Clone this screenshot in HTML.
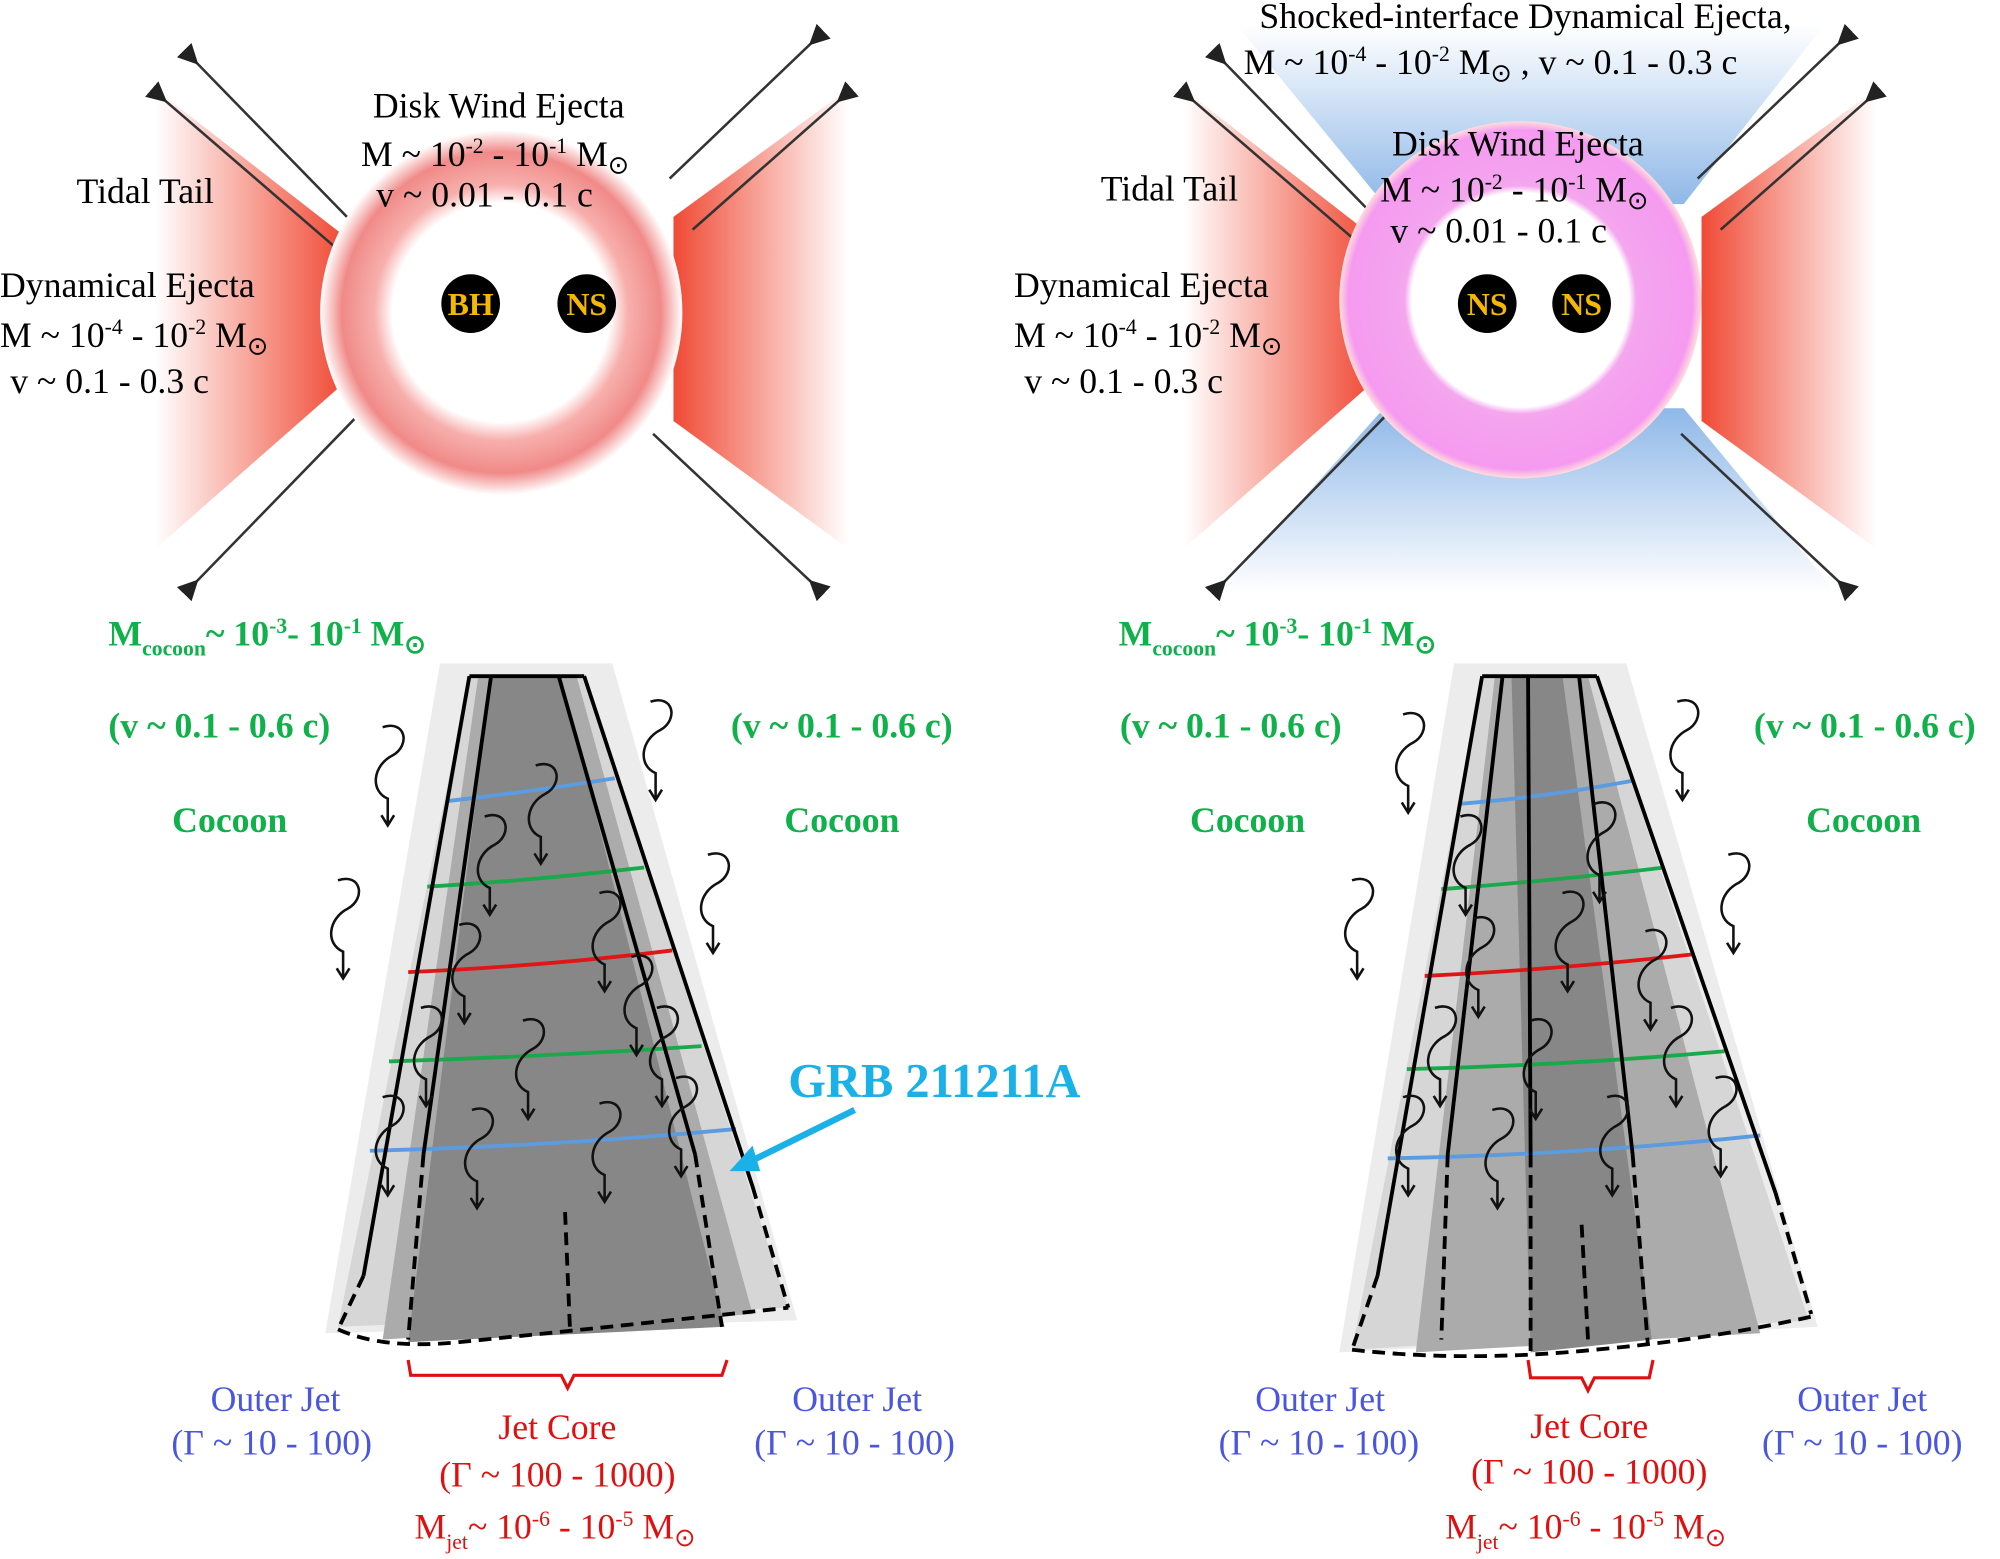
<!DOCTYPE html>
<html><head><meta charset="utf-8"><style>
html,body{margin:0;padding:0;background:#fff}
svg{display:block}
text{font-family:"Liberation Serif",serif}
.k{fill:#000;font-size:28px}
.g{fill:#1db954;font-size:28px;font-weight:bold;fill:#10b04a}
.b{fill:#4a55e0;font-size:28px}
.r{fill:#e01010;font-size:28px}
.o{fill:#f5b800;font-size:25px;font-weight:bold}
</style></head><body>
<svg width="2000" height="1559" viewBox="0 0 1568 1222" preserveAspectRatio="none" xmlns="http://www.w3.org/2000/svg">
<defs>
<linearGradient id="wl" x1="0" x2="1"><stop offset="0" stop-color="#fff"/><stop offset="1" stop-color="#f04a35"/></linearGradient>
<linearGradient id="wr" x1="1" x2="0"><stop offset="0" stop-color="#fff"/><stop offset="1" stop-color="#f04a35"/></linearGradient>
<radialGradient id="ringR"><stop offset="0.6" stop-color="#fff"/><stop offset="0.7" stop-color="#f7b0ad"/><stop offset="0.88" stop-color="#f08a88"/><stop offset="1" stop-color="#fff"/></radialGradient>
<radialGradient id="ringP"><stop offset="0.6" stop-color="#fff"/><stop offset="0.64" stop-color="#f4a6ee"/><stop offset="0.95" stop-color="#f59af0"/><stop offset="1" stop-color="#fdd"/></radialGradient>
<linearGradient id="bt" x1="0" y1="0" x2="0" y2="1"><stop offset="0" stop-color="#fff"/><stop offset="1" stop-color="#8fb8e8"/></linearGradient>
<linearGradient id="bb" x1="0" y1="1" x2="0" y2="0"><stop offset="0" stop-color="#fff"/><stop offset="1" stop-color="#8fb8e8"/></linearGradient>
<marker id="ah" markerWidth="8" markerHeight="8" refX="4" refY="4" orient="auto"><path d="M0,0 L8,4 L0,8 z" fill="#222"/></marker>
<marker id="sa" markerWidth="10" markerHeight="10" refX="5" refY="8" orient="auto-start-reverse"><path d="M1,2 L5,9 L9,2" fill="none" stroke="#111" stroke-width="1.5"/></marker>
<g id="sq"><path d="M0,0 C18,-6 22,14 8,22 C-8,30 -10,50 4,56 L4,75" fill="none" stroke="#111" stroke-width="2"/><path d="M-1,69 L4,77 L9,69" fill="none" stroke="#111" stroke-width="2"/></g>
<g id="top">
<polygon points="122,70 270,185 270,300 122,430" fill="url(#wl)"/>
<polygon points="665,70 528,170 528,330 665,430" fill="url(#wr)"/>
<line x1="150" y1="45" x2="272" y2="170" stroke="#333" stroke-width="2" marker-start="url(#ah)"/>
<line x1="125" y1="75" x2="270" y2="200" stroke="#333" stroke-width="2" marker-start="url(#ah)"/>
<line x1="150" y1="460" x2="288" y2="318" stroke="#333" stroke-width="2" marker-start="url(#ah)"/>
<line x1="640" y1="30" x2="525" y2="140" stroke="#333" stroke-width="2" marker-start="url(#ah)"/>
<line x1="662" y1="75" x2="543" y2="180" stroke="#333" stroke-width="2" marker-start="url(#ah)"/>
<line x1="640" y1="460" x2="512" y2="340" stroke="#333" stroke-width="2" marker-start="url(#ah)"/>
</g>
</defs>

<!-- LEFT TOP PANEL -->
<g>
<use href="#top"/>
<ellipse cx="393" cy="245" rx="142" ry="143" fill="url(#ringR)"/>
<circle cx="369" cy="238" r="23" fill="#000"/>
<text x="369" y="247" class="o" text-anchor="middle">BH</text>
<circle cx="460" cy="238" r="23" fill="#000"/>
<text x="460" y="247" class="o" text-anchor="middle">NS</text>
<text x="391" y="92" class="k" text-anchor="middle">Disk Wind Ejecta</text>
<text x="283" y="130" class="k">M ~ 10<tspan dy="-10" font-size="17">-2</tspan><tspan dy="10"> - 10</tspan><tspan dy="-10" font-size="17">-1</tspan><tspan dy="10"> M</tspan><tspan dy="6" font-size="20">⊙</tspan></text>
<text x="295" y="162" class="k">v ~  0.01 - 0.1 c</text>
<text x="60" y="159" class="k">Tidal Tail</text>
<text x="0" y="233" class="k">Dynamical Ejecta</text>
<text x="0" y="272" class="k">M ~ 10<tspan dy="-10" font-size="17">-4</tspan><tspan dy="10"> - 10</tspan><tspan dy="-10" font-size="17">-2</tspan><tspan dy="10"> M</tspan><tspan dy="6" font-size="20">⊙</tspan></text>
<text x="8" y="308" class="k">v ~  0.1 - 0.3 c</text>
</g>

<!-- RIGHT TOP PANEL -->
<g>
<polygon points="970,20 1430,20 1320,160 1085,160" fill="url(#bt)"/>
<polygon points="1085,320 1320,320 1440,465 955,465" fill="url(#bb)"/>
<use href="#top" transform="translate(806,0)"/>
<ellipse cx="1192" cy="235" rx="142" ry="140" fill="url(#ringP)"/>
<circle cx="1166" cy="238" r="23" fill="#000"/>
<text x="1166" y="247" class="o" text-anchor="middle">NS</text>
<circle cx="1240" cy="238" r="23" fill="#000"/>
<text x="1240" y="247" class="o" text-anchor="middle">NS</text>
<text x="1196" y="22" class="k" text-anchor="middle">Shocked-interface Dynamical Ejecta,</text>
<text x="975" y="58" class="k">M ~ 10<tspan dy="-10" font-size="17">-4</tspan><tspan dy="10"> - 10</tspan><tspan dy="-10" font-size="17">-2</tspan><tspan dy="10"> M</tspan><tspan dy="6" font-size="20">⊙</tspan><tspan dy="-6"> , v ~  0.1 - 0.3 c</tspan></text>
<text x="1190" y="122" class="k" text-anchor="middle">Disk Wind Ejecta</text>
<text x="1082" y="158" class="k">M ~ 10<tspan dy="-10" font-size="17">-2</tspan><tspan dy="10"> - 10</tspan><tspan dy="-10" font-size="17">-1</tspan><tspan dy="10"> M</tspan><tspan dy="6" font-size="20">⊙</tspan></text>
<text x="1090" y="190" class="k">v ~  0.01 - 0.1 c</text>
<text x="863" y="157" class="k">Tidal Tail</text>
<text x="795" y="233" class="k">Dynamical Ejecta</text>
<text x="795" y="272" class="k">M ~ 10<tspan dy="-10" font-size="17">-4</tspan><tspan dy="10"> - 10</tspan><tspan dy="-10" font-size="17">-2</tspan><tspan dy="10"> M</tspan><tspan dy="6" font-size="20">⊙</tspan></text>
<text x="803" y="308" class="k">v ~  0.1 - 0.3 c</text>
</g>

<!-- LEFT JET -->
<g>
<polygon points="345,520 480,520 625,1035 255,1045" fill="#ececec"/>
<polygon points="368,530 458,530 618,1025 265,1040" fill="#d6d6d6"/>
<polygon points="375,530 452,530 590,1030 300,1050" fill="#ababab"/>
<polygon points="385,530 440,530 568,1040 320,1052" fill="#878787"/>
<g fill="none" stroke-width="3">
<path d="M350,628 Q420,620 482,610" stroke="#5b9be0"/>
<path d="M335,695 Q420,690 505,680" stroke="#1aa84a"/>
<path d="M320,762 Q430,757 527,745" stroke="#e01515"/>
<path d="M305,832 Q430,828 550,820" stroke="#1aa84a"/>
<path d="M290,902 Q440,898 577,885" stroke="#5b9be0"/>
</g>
<g stroke="#000" stroke-width="3" fill="none">
<path d="M368,530 L458,530"/>
<path d="M368,530 L285,1000"/><path d="M458,530 L590,930"/>
<path d="M385,530 L332,905"/><path d="M438,530 L545,905"/>
<g stroke-dasharray="10,6"><path d="M285,1000 L265,1042"/><path d="M590,930 L618,1025"/><path d="M265,1042 Q300,1058 360,1052 Q480,1040 618,1025"/><path d="M332,905 L320,1050"/><path d="M545,905 L566,1040"/><path d="M443,950 L447,1045"/></g>
</g>
<use href="#sq" transform="translate(300,570)"/><use href="#sq" transform="translate(510,550)"/>
<use href="#sq" transform="translate(265,690)"/><use href="#sq" transform="translate(555,670)"/>
<use href="#sq" transform="translate(380,640)"/><use href="#sq" transform="translate(420,600)"/>
<use href="#sq" transform="translate(360,725)"/><use href="#sq" transform="translate(470,700)"/><use href="#sq" transform="translate(495,750)"/>
<use href="#sq" transform="translate(330,790)"/><use href="#sq" transform="translate(410,800)"/><use href="#sq" transform="translate(515,790)"/>
<use href="#sq" transform="translate(300,860)"/><use href="#sq" transform="translate(370,870)"/><use href="#sq" transform="translate(470,865)"/><use href="#sq" transform="translate(530,845)"/>
</g>

<!-- RIGHT JET -->
<g>
<polygon points="1140,520 1275,520 1425,1040 1050,1060" fill="#ececec"/>
<polygon points="1162,530 1252,530 1418,1035 1060,1058" fill="#d6d6d6"/>
<polygon points="1172,530 1245,530 1380,1045 1110,1060" fill="#ababab"/>
<polygon points="1185,530 1225,530 1295,1050 1200,1060" fill="#878787"/>
<g fill="none" stroke-width="3">
<path d="M1145,630 Q1210,625 1280,612" stroke="#5b9be0"/>
<path d="M1130,697 Q1220,690 1305,680" stroke="#1aa84a"/>
<path d="M1117,765 Q1220,760 1328,748" stroke="#e01515"/>
<path d="M1103,838 Q1230,835 1352,824" stroke="#1aa84a"/>
<path d="M1088,908 Q1240,905 1380,890" stroke="#5b9be0"/>
</g>
<g stroke="#000" stroke-width="3" fill="none">
<path d="M1162,530 L1252,530"/>
<path d="M1162,530 L1080,1000"/><path d="M1252,530 L1392,935"/>
<path d="M1178,530 L1135,905"/><path d="M1238,530 L1280,905"/>
<path d="M1198,530 L1200,905"/>
<g stroke-dasharray="10,6"><path d="M1080,1000 L1060,1058"/><path d="M1392,935 L1420,1030"/><path d="M1060,1058 Q1150,1068 1250,1058 Q1340,1050 1420,1032"/><path d="M1135,905 L1130,1050"/><path d="M1280,905 L1292,1055"/><path d="M1200,905 L1200,1060"/><path d="M1240,960 L1245,1050"/></g>
</g>
<use href="#sq" transform="translate(1100,560)"/><use href="#sq" transform="translate(1315,550)"/>
<use href="#sq" transform="translate(1060,690)"/><use href="#sq" transform="translate(1355,670)"/>
<use href="#sq" transform="translate(1145,640)"/><use href="#sq" transform="translate(1250,630)"/>
<use href="#sq" transform="translate(1155,720)"/><use href="#sq" transform="translate(1225,700)"/><use href="#sq" transform="translate(1290,730)"/>
<use href="#sq" transform="translate(1125,790)"/><use href="#sq" transform="translate(1200,800)"/><use href="#sq" transform="translate(1310,790)"/>
<use href="#sq" transform="translate(1100,860)"/><use href="#sq" transform="translate(1170,870)"/><use href="#sq" transform="translate(1260,860)"/><use href="#sq" transform="translate(1345,845)"/>
</g>

<!-- GRB annotation -->
<text x="618" y="860" font-size="38" font-weight="bold" fill="#1ab0e8">GRB 211211A</text>
<line x1="670" y1="870" x2="585" y2="912" stroke="#1ab0e8" stroke-width="5"/>
<path d="M572,918 L590,898 L596,918 z" fill="#1ab0e8"/>

<!-- Green cocoon labels -->
<g class="gl">
<text x="85" y="506" class="g">M<tspan dy="8" font-size="17">cocoon</tspan><tspan dy="-8">~ 10</tspan><tspan dy="-10" font-size="17">-3</tspan><tspan dy="10">- 10</tspan><tspan dy="-10" font-size="17">-1</tspan><tspan dy="10">  M</tspan><tspan dy="6" font-size="20">⊙</tspan></text>
<text x="85" y="578" class="g">(v ~  0.1 - 0.6 c)</text>
<text x="573" y="578" class="g">(v ~  0.1 - 0.6 c)</text>
<text x="135" y="652" class="g">Cocoon</text>
<text x="615" y="652" class="g">Cocoon</text>
<text x="877" y="506" class="g">M<tspan dy="8" font-size="17">cocoon</tspan><tspan dy="-8">~ 10</tspan><tspan dy="-10" font-size="17">-3</tspan><tspan dy="10">- 10</tspan><tspan dy="-10" font-size="17">-1</tspan><tspan dy="10">  M</tspan><tspan dy="6" font-size="20">⊙</tspan></text>
<text x="878" y="578" class="g">(v ~  0.1 - 0.6 c)</text>
<text x="1375" y="578" class="g">(v ~  0.1 - 0.6 c)</text>
<text x="933" y="652" class="g">Cocoon</text>
<text x="1416" y="652" class="g">Cocoon</text>
</g>

<!-- Bottom labels left -->
<path d="M320,1066 L322,1078 L440,1078 L445,1088 L450,1078 L566,1078 L570,1066" fill="none" stroke="#e01010" stroke-width="2.5"/>
<text x="216" y="1106" class="b" text-anchor="middle">Outer Jet</text>
<text x="213" y="1140" class="b" text-anchor="middle">(Γ ~ 10 - 100)</text>
<text x="672" y="1106" class="b" text-anchor="middle">Outer Jet</text>
<text x="670" y="1140" class="b" text-anchor="middle">(Γ ~ 10 - 100)</text>
<text x="437" y="1128" class="r" text-anchor="middle">Jet Core</text>
<text x="437" y="1165" class="r" text-anchor="middle">(Γ ~ 100 - 1000)</text>
<text x="325" y="1206" class="r">M<tspan dy="8" font-size="17">jet</tspan><tspan dy="-8">~ 10</tspan><tspan dy="-10" font-size="17">-6</tspan><tspan dy="10"> - 10</tspan><tspan dy="-10" font-size="17">-5</tspan><tspan dy="10"> M</tspan><tspan dy="6" font-size="20">⊙</tspan></text>

<!-- Bottom labels right -->
<path d="M1198,1066 L1200,1080 L1240,1080 L1245,1090 L1250,1080 L1293,1080 L1296,1066" fill="none" stroke="#e01010" stroke-width="2.5"/>
<text x="1035" y="1106" class="b" text-anchor="middle">Outer Jet</text>
<text x="1034" y="1140" class="b" text-anchor="middle">(Γ ~ 10 - 100)</text>
<text x="1460" y="1106" class="b" text-anchor="middle">Outer Jet</text>
<text x="1460" y="1140" class="b" text-anchor="middle">(Γ ~ 10 - 100)</text>
<text x="1246" y="1127" class="r" text-anchor="middle">Jet Core</text>
<text x="1246" y="1163" class="r" text-anchor="middle">(Γ ~ 100 - 1000)</text>
<text x="1133" y="1206" class="r">M<tspan dy="8" font-size="17">jet</tspan><tspan dy="-8">~ 10</tspan><tspan dy="-10" font-size="17">-6</tspan><tspan dy="10"> - 10</tspan><tspan dy="-10" font-size="17">-5</tspan><tspan dy="10"> M</tspan><tspan dy="6" font-size="20">⊙</tspan></text>
</svg>
</body></html>
